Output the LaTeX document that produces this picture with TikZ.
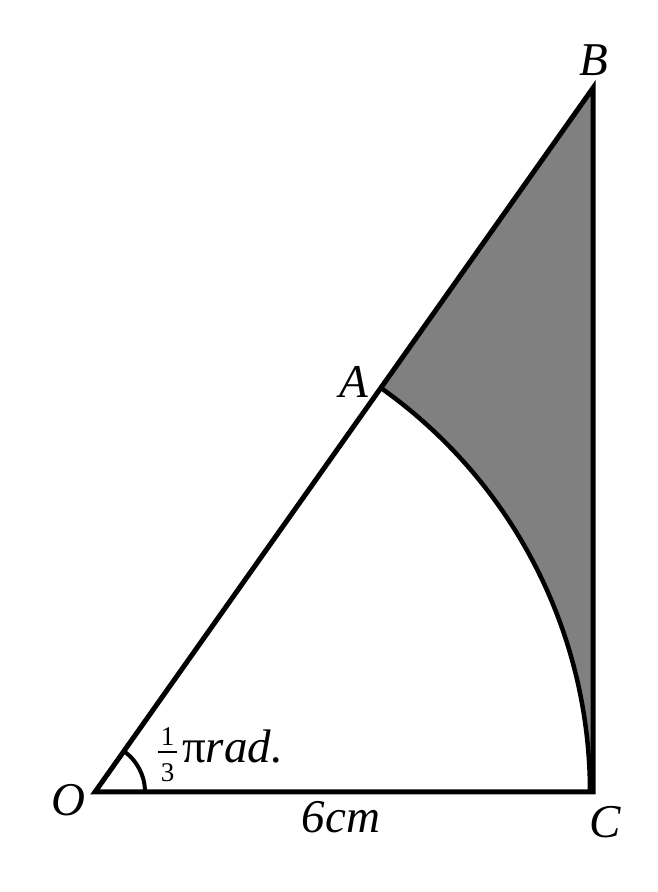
\documentclass[tikz,border=0pt]{standalone}
\usepackage{fontspec}
\setmainfont{Liberation Serif}
\usetikzlibrary{calc}
\tikzset{
  edge/.style={line width=5pt, line join=miter, line cap=rect},
  lbl/.style={inner sep=0pt, font=\fontsize{47}{47}\selectfont\itshape},
  fracdigit/.style={inner sep=0pt, anchor=base, font=\fontsize{27}{27}\selectfont}
}
\begin{document}
\begin{tikzpicture}[x=1pt,y=1pt]
\useasboundingbox (0,0) rectangle (658,892);
\coordinate (O) at (95,100);
\coordinate (C) at (593,100);
\coordinate (B) at (593,804);
\coordinate (A) at ($(O)+(54.72:495)$);
\coordinate (E) at ($(O)+(495,0)$);
\fill[black!50] (A) -- (B) -- (C) -- (E) arc[start angle=0, end angle=54.72, radius=495] -- cycle;
\draw[edge] (O) -- (C) -- (B) -- cycle;
\draw[line width=4.5pt] (A) arc[start angle=54.72, end angle=0, radius=495];
\draw[line width=4pt] ($(O)+(50,0)$) arc[start angle=0, end angle=54.72, radius=50];
\node[lbl] (lO) at (68,92) {O};
\node[lbl] (lC) at (605,70) {C};
\node[lbl] (lB) at (594,832) {B};
\node[lbl] (lA) at (354,510) {A};
\node[lbl] (l6) at (341,75) {6cm};
\node[fracdigit] (num) at (167.5,146) {1};
\node[fracdigit] (den) at (167.5,110) {3};
\coordinate (barL) at (158,140);
\coordinate (barR) at (177,140);
\draw[line width=2pt] (barL) -- (barR);
\node[lbl, anchor=base west] (lang) at (182,129) {\upshape π\itshape rad.};
\end{tikzpicture}
\end{document}
